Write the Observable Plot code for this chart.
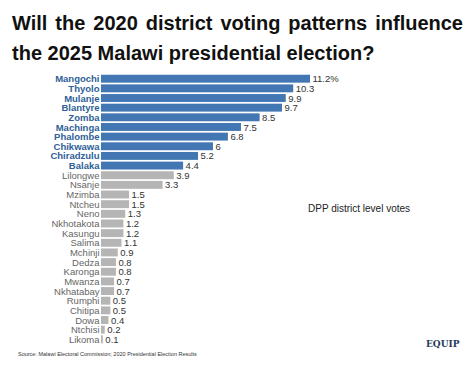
<!DOCTYPE html>
<html>
<head>
<meta charset="utf-8">
<script src="https://cdn.jsdelivr.net/npm/d3@7"></script>
<script src="https://cdn.jsdelivr.net/npm/@observablehq/plot@0.6"></script>
<style>
  html, body { margin: 0; padding: 0; background: #fff; }
  #wrap { position: relative; width: 474px; height: 366px; overflow: hidden; font-family: "Liberation Sans", Arial, sans-serif; }
  .t { position: absolute; left: 12px; font-size: 20px; font-weight: bold; line-height: 24px; color: #111; white-space: nowrap; }
  #t1 { top: 11px; width: 451px; text-align: justify; text-align-last: justify; white-space: normal; }
  #t2 { top: 41px; }
  #chart { position: absolute; left: 0; top: 70px; width: 474px; height: 280px; }
  #chart svg { display: block; max-width: none !important; width: 474px; height: 280px; }
  #legend { position: absolute; left: 308px; top: 203px; font-size: 10px; color: #222; }
  #source { position: absolute; left: 18px; top: 351px; font-size: 5.5px; color: #333; }
  #logo { position: absolute; left: 426px; top: 339px; font-size: 9px; font-family: "DejaVu Serif", serif; font-weight: bold; color: #1f3b58; }
</style>
</head>
<body>
<div id="wrap">
  <div class="t" id="t1">Will the 2020 district voting patterns influence</div>
  <div class="t" id="t2">the 2025 Malawi presidential election?</div>
  <div id="chart"></div>
  <div id="legend">DPP district level votes</div>
  <div id="source">Source: Malawi Electoral Commission; 2020 Presidential Election Results</div>
  <div id="logo">EQUIP</div>
</div>
<script>
const districts = ["Mangochi","Thyolo","Mulanje","Blantyre","Zomba","Machinga","Phalombe","Chikwawa","Chiradzulu","Balaka","Lilongwe","Nsanje","Mzimba","Ntcheu","Neno","Nkhotakota","Kasungu","Salima","Mchinji","Dedza","Karonga","Mwanza","Nkhatabay","Rumphi","Chitipa","Dowa","Ntchisi","Likoma"];
const votes = [11.2,10.3,9.9,9.7,8.5,7.5,6.8,6,5.2,4.4,3.9,3.3,1.5,1.5,1.3,1.2,1.2,1.1,0.9,0.8,0.8,0.7,0.7,0.5,0.5,0.4,0.2,0.1];
const valueLabels = ["11.2%","10.3","9.9","9.7","8.5","7.5","6.8","6","5.2","4.4","3.9","3.3","1.5","1.5","1.3","1.2","1.2","1.1","0.9","0.8","0.8","0.7","0.7","0.5","0.5","0.4","0.2","0.1"];
const highlighted = ["Mangochi","Thyolo","Mulanje","Blantyre","Zomba","Machinga","Phalombe","Chikwawa","Chiradzulu","Balaka"];

const data = districts.map((d, i) => ({district: d, value: votes[i], label: valueLabels[i], hi: highlighted.includes(d)}));
const hiData = data.filter(d => d.hi);
const loData = data.filter(d => !d.hi);

const blue = "#4277b3";
const gray = "#b5b5b5";

const chart = Plot.plot({
  width: 474,
  height: 280,
  marginLeft: 101,
  marginRight: 164,
  marginTop: 3,
  marginBottom: 5,
  style: {fontFamily: "Liberation Sans, Arial, sans-serif", background: "transparent"},
  x: {domain: [0, 11.2], axis: null},
  y: {domain: districts, axis: null, padding: 0.18, round: false},
  marks: [
    Plot.barX(data, {x: "value", y: "district", fill: d => d.hi ? blue : gray}),
    Plot.text(hiData, {x: 0, y: "district", text: "district", textAnchor: "end", dx: -2, fontSize: 9.5, fill: "#2f5f98", fontWeight: "bold"}),
    Plot.text(loData, {x: 0, y: "district", text: "district", textAnchor: "end", dx: -2, fontSize: 9.5, fill: "#666"}),
    Plot.text(data, {x: "value", y: "district", text: "label", textAnchor: "start", dx: 2, fontSize: 9.5, fill: "#333"})
  ]
});
document.getElementById("chart").appendChild(chart);
</script>
</body>
</html>
